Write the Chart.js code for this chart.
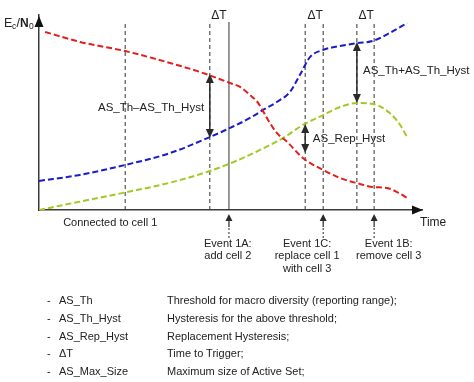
<!DOCTYPE html>
<html><head><meta charset="utf-8">
<script src="https://cdn.jsdelivr.net/npm/chart.js@4/dist/chart.umd.min.js"></script>
<style>
html,body{margin:0;padding:0;background:#fff;}
#wrap{position:relative;width:474px;height:382px;font-family:"Liberation Sans",Arial,sans-serif;overflow:hidden;}
#c{position:absolute;left:0;top:0;}
.row{position:absolute;white-space:nowrap;font-size:11px;line-height:14px;color:#222;}
</style></head>
<body><div id="wrap"><canvas id="c" width="474" height="382"></canvas><div id="legend"></div></div>
<script>
// ---- data (time in arbitrary units 0..100, Ec/N0 in arbitrary units 0..100) ----
const cell1Time = [1.6, 10.7, 22.5, 34.2, 42.0, 49.9, 52.5, 55.1, 57.2, 59.8, 62.1, 64.8, 68.9, 74.2, 78.6, 83.0, 87.2, 90.9, 93.5, 96.1];
const cell1Level = [91.3, 86.2, 81.5, 75.4, 70.8, 65.1, 63.1, 59.0, 54.9, 46.2, 39.5, 34.9, 26.7, 20.5, 16.4, 13.8, 11.8, 11.3, 9.2, 6.2];
const cell2Time = [0, 10.7, 22.5, 34.2, 44.6, 49.9, 55.1, 58.5, 62.1, 65.5, 68.1, 70.8, 74.2, 78.6, 83.0, 87.2, 91.6, 96.1];
const cell2Level = [14.9, 18.0, 23.1, 29.2, 37.4, 42.1, 47.2, 51.3, 55.4, 60.5, 69.2, 78.5, 82.1, 84.1, 85.6, 86.7, 90.8, 95.9];
const cell3Time = [0, 10.7, 22.5, 34.2, 44.6, 52.0, 57.7, 63.7, 68.9, 74.2, 78.6, 83.3, 87.2, 91.6, 94.3, 96.1];
const cell3Level = [0, 4.3, 9.0, 14.0, 20.0, 25.6, 30.8, 36.9, 43.6, 48.7, 52.8, 54.9, 54.4, 49.7, 43.6, 37.4];
// vertical time markers (dashed = trigger window edges, solid = event moment)
const markerTimes = [22.5, 44.6, 49.6, 69.5, 74.2, 83.0, 87.5];
const markerSolid = [false, false, true, false, false, false, false];
const markerTop = 96.4;
// ΔT labels
const deltaTTimes = [47.0, 72.1, 85.4];
// hysteresis double arrows
const hystTime = [44.6, 83.0, 69.5];
const hystTop = [69.7, 86.2, 44.1];
const hystBottom = [36.9, 54.9, 29.2];
const hystLabel = ['AS_Th\u2013AS_Th_Hyst', 'AS_Th+AS_Th_Hyst', 'AS_Rep_Hyst'];
const hystLabelTime = [43.1, 84.6, 71.5];
const hystLabelLevel = [52.3, 71.3, 36.4];
const hystLabelAlign = ['right', 'left', 'left'];
// events
const eventTimes = [49.6, 74.2, 87.5];
const eventTextTimes = [49.3, 70.0, 91.3];
const eventLabels = [['Event 1A:', 'add cell 2'], ['Event 1C:', 'replace cell 1', 'with cell 3'], ['Event 1B:', 'remove cell 3']];
// parameter list
const paramNames = ['AS_Th', 'AS_Th_Hyst', 'AS_Rep_Hyst', '\u0394T', 'AS_Max_Size'];
const paramDesc = ['Threshold for macro diversity (reporting range);', 'Hysteresis for the above threshold;', 'Replacement Hysteresis;', 'Time to Trigger;', 'Maximum size of Active Set;'];

const FONT = '"Liberation Sans", Arial, sans-serif';
const AX = '#3a3a3a';
const pts = (t, v) => t.map((x, i) => ({x: x, y: v[i]}));

const datasets = [
  {data: pts(cell1Time, cell1Level), borderColor: '#e31e1a', borderWidth: 2, borderDash: [6, 3], order: 1},
  {data: pts(cell2Time, cell2Level), borderColor: '#1b1bcc', borderWidth: 2, borderDash: [6, 3], order: 1},
  {data: pts(cell3Time, cell3Level), borderColor: '#a2c923', borderWidth: 2, borderDash: [6, 3], order: 1}
];
markerTimes.forEach((t, i) => {
  datasets.push({data: [{x: t, y: 0}, {x: t, y: markerTop}], borderColor: '#333', borderWidth: 1,
    borderDash: markerSolid[i] ? [] : [4, 3], order: 5, cubicInterpolationMode: 'default', tension: 0});
});
datasets.forEach(d => { d.pointRadius = 0; d.fill = false; if (d.order === 1) d.cubicInterpolationMode = 'monotone'; });

function tri(ctx, x, y, dir, w, h) {
  ctx.beginPath();
  if (dir === 'up') { ctx.moveTo(x, y); ctx.lineTo(x - w / 2, y + h); ctx.lineTo(x + w / 2, y + h); }
  if (dir === 'down') { ctx.moveTo(x, y); ctx.lineTo(x - w / 2, y - h); ctx.lineTo(x + w / 2, y - h); }
  if (dir === 'right') { ctx.moveTo(x, y); ctx.lineTo(x - h, y - w / 2); ctx.lineTo(x - h, y + w / 2); }
  ctx.closePath(); ctx.fill();
}

const annot = {
  id: 'annot',
  afterDraw(chart) {
    const ctx = chart.ctx, xs = chart.scales.x, ys = chart.scales.y, a = chart.chartArea;
    ctx.save();
    ctx.fillStyle = '#222'; ctx.strokeStyle = '#222';
    // axis arrowheads
    ctx.fillStyle = '#111';
    tri(ctx, a.left, a.top + 1, 'up', 9, 11);
    tri(ctx, a.right + 1, a.bottom, 'right', 9, 11);
    // hysteresis double arrows
    ctx.fillStyle = '#2a2a2a'; ctx.strokeStyle = '#2a2a2a'; ctx.lineWidth = 1.5;
    hystTime.forEach((t, i) => {
      const x = xs.getPixelForValue(t), y1 = ys.getPixelForValue(hystTop[i]), y2 = ys.getPixelForValue(hystBottom[i]);
      ctx.beginPath(); ctx.moveTo(x, y1 + 6); ctx.lineTo(x, y2 - 6); ctx.stroke();
      tri(ctx, x, y1, 'up', 8, 9);
      tri(ctx, x, y2, 'down', 8, 9);
    });
    // event arrows below the axis
    eventTimes.forEach(t => {
      const x = xs.getPixelForValue(t), y0 = a.bottom + 4;
      tri(ctx, x, y0, 'up', 7, 7);
      ctx.lineWidth = 1.2; ctx.setLineDash([]);
      ctx.beginPath(); ctx.moveTo(x, y0 + 6); ctx.lineTo(x, y0 + 13); ctx.stroke();
      ctx.setLineDash([2, 2]); ctx.lineWidth = 1;
      ctx.beginPath(); ctx.moveTo(x, y0 + 14); ctx.lineTo(x, y0 + 24); ctx.stroke();
      ctx.setLineDash([]);
    });
    // texts
    ctx.fillStyle = '#222'; ctx.textBaseline = 'middle';
    ctx.font = '11.5px ' + FONT;
    hystLabel.forEach((s, i) => {
      ctx.textAlign = hystLabelAlign[i];
      ctx.fillText(s, xs.getPixelForValue(hystLabelTime[i]), ys.getPixelForValue(hystLabelLevel[i]));
    });
    ctx.font = '12px ' + FONT; ctx.textAlign = 'center';
    deltaTTimes.forEach(t => ctx.fillText('\u0394T', xs.getPixelForValue(t), a.top + 1));
    ctx.textAlign = 'left';
    ctx.fillText('Time', a.right - 2, a.bottom + 13);
    ctx.font = '11px ' + FONT;
    ctx.fillText('Connected to cell 1', xs.getPixelForValue(6.3), a.bottom + 13);
    ctx.textAlign = 'center';
    eventLabels.forEach((lines, i) => {
      const x = xs.getPixelForValue(eventTextTimes[i]);
      lines.forEach((s, j) => ctx.fillText(s, x, a.bottom + 34 + j * 12.4));
    });
    // y-axis title Ec/N0
    ctx.textAlign = 'left'; ctx.textBaseline = 'alphabetic';
    ctx.font = '12.5px ' + FONT; ctx.fillText('E', 4, 27);
    ctx.font = '8.5px ' + FONT; ctx.fillText('c', 12, 29);
    ctx.font = '12.5px ' + FONT; ctx.fillText('/', 16.5, 27);
    ctx.font = 'bold 12px ' + FONT; ctx.fillText('N', 20, 27);
    ctx.font = '8.5px ' + FONT; ctx.fillText('0', 29, 29);
    ctx.restore();
  }
};

new Chart(document.getElementById('c'), {
  type: 'line',
  data: {datasets: datasets},
  options: {
    responsive: false, animation: false, devicePixelRatio: 1,
    layout: {padding: {left: 39, top: 15, right: 52, bottom: 172}},
    plugins: {legend: {display: false}, tooltip: {enabled: false}},
    elements: {line: {tension: 0.4}},
    scales: {
      x: {type: 'linear', min: 0, max: 100, grid: {display: false}, ticks: {display: false},
          border: {display: true, color: AX, width: 1.5}, afterFit: s => { s.height = 0; }},
      y: {type: 'linear', min: 0, max: 100, grid: {display: false}, ticks: {display: false},
          border: {display: true, color: AX, width: 1.5}, afterFit: s => { s.width = 0; }}
    }
  },
  plugins: [annot]
});

// parameter list as HTML text
const leg = document.getElementById('legend');
const rowCenters = [300, 318, 336, 353, 371];
paramNames.forEach((n, i) => {
  const top = rowCenters[i] - 7;
  [['-', 47], [n, 59], [paramDesc[i], 167]].forEach(([s, x]) => {
    const d = document.createElement('div');
    d.className = 'row'; d.style.left = x + 'px'; d.style.top = top + 'px'; d.textContent = s;
    leg.appendChild(d);
  });
});
</script>
</body></html>
